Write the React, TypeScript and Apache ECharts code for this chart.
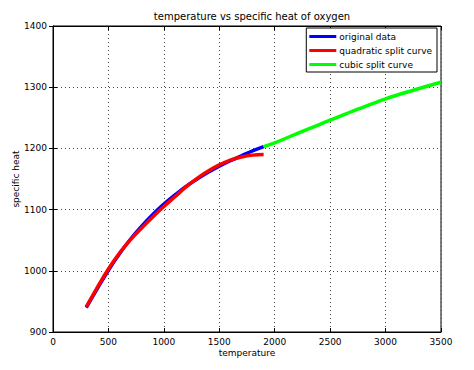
import React, { useEffect, useRef } from "react";
import * as echarts from "echarts";

const titleText = "temperature vs specific heat of oxygen";
const xName = "temperature";
const yName = "specific heat";

const originalX = [300, 400, 500, 600, 700, 800, 900, 1000, 1100, 1200, 1300, 1400, 1500, 1600, 1700, 1800, 1900];
const originalY = [940, 971, 1001, 1028, 1052, 1073, 1092, 1109, 1124, 1138, 1150, 1161, 1171, 1180, 1188, 1196, 1203];

const quadX = [300, 400, 500, 600, 700, 800, 900, 1000, 1100, 1200, 1300, 1400, 1500, 1600, 1700, 1800, 1900];
const quadY = [941, 973, 1003, 1029, 1051, 1070, 1088, 1105, 1121, 1137, 1151, 1163, 1173, 1181, 1186, 1189, 1190];

const cubicX = [1900, 2000, 2250, 2500, 2750, 3000, 3250, 3500];
const cubicY = [1203, 1209, 1228, 1246, 1264, 1281, 1295, 1308];

const zip = (xs: number[], ys: number[]) => xs.map((x, i) => [x, ys[i]]);

const FONT = "DejaVu Sans";

export default function App() {
  const ref = useRef<HTMLDivElement>(null);
  useEffect(() => {
    if (!ref.current) return;
    const chart = echarts.init(ref.current, undefined, { renderer: "svg" });
    const axisCommon = {
      axisLine: { show: true, lineStyle: { color: "#000", width: 1 } },
      axisTick: { show: true, inside: true, length: 4, lineStyle: { color: "#000" } },
    };
    const fmt = (v: number) => String(v);
    chart.setOption({
      animation: false,
      backgroundColor: "#fff",
      title: {
        text: titleText,
        left: 247,
        textAlign: "center",
        top: 6,
        textStyle: { fontFamily: FONT, fontSize: 10, fontWeight: "normal", color: "#000" },
      },
      legend: {
        orient: "vertical",
        right: 37,
        top: 28,
        backgroundColor: "#fff",
        borderColor: "#000",
        borderWidth: 1,
        borderRadius: 0,
        padding: [4, 5, 3, 3],
        itemGap: 5,
        itemWidth: 27,
        itemHeight: 3,
        icon: "rect",
        textStyle: { fontFamily: FONT, fontSize: 9, color: "#000", padding: [0, 0, 0, -2] },
        data: ["original data", "quadratic split curve", "cubic split curve"],
      },
      grid: {
        left: 53,
        right: 33,
        top: 26,
        bottom: 38,
        show: true,
        borderColor: "#000",
        borderWidth: 1,
        outerBoundsMode: "none",
        containLabel: false,
      },
      xAxis: [
        {
          ...axisCommon,
          type: "value",
          min: 0,
          max: 3500,
          interval: 500,
          position: "bottom",
          name: xName,
          nameLocation: "middle",
          nameGap: 16,
          nameMoveOverlap: false,
          nameTextStyle: { fontFamily: FONT, fontSize: 9, color: "#000" },
          axisLabel: { fontFamily: FONT, fontSize: 9, color: "#000", margin: 5, formatter: fmt },
          splitLine: { show: true, lineStyle: { type: [1, 3], color: "#444", width: 1 } },
        },
        {
          ...axisCommon,
          type: "value",
          min: 0,
          max: 3500,
          interval: 500,
          position: "top",
          axisLabel: { show: false },
          splitLine: { show: false },
        },
      ],
      yAxis: [
        {
          ...axisCommon,
          type: "value",
          min: 900,
          max: 1400,
          interval: 100,
          position: "left",
          name: yName,
          nameLocation: "middle",
          nameGap: 33,
          nameMoveOverlap: false,
          nameTextStyle: { fontFamily: FONT, fontSize: 9, color: "#000" },
          axisLabel: { fontFamily: FONT, fontSize: 9, color: "#000", margin: 6, formatter: fmt },
          splitLine: { show: true, lineStyle: { type: [1, 3], color: "#444", width: 1 } },
        },
        {
          ...axisCommon,
          type: "value",
          min: 900,
          max: 1400,
          interval: 100,
          position: "right",
          axisLabel: { show: false },
          splitLine: { show: false },
        },
      ],
      series: [
        {
          name: "original data",
          type: "line",
          data: zip(originalX, originalY),
          smooth: 0.4,
          showSymbol: false,
          lineStyle: { color: "#0000ff", width: 3.5 },
          itemStyle: { color: "#0000ff" },
        },
        {
          name: "quadratic split curve",
          type: "line",
          data: zip(quadX, quadY),
          smooth: 0.4,
          showSymbol: false,
          lineStyle: { color: "#ff0000", width: 3.5 },
          itemStyle: { color: "#ff0000" },
        },
        {
          name: "cubic split curve",
          type: "line",
          data: zip(cubicX, cubicY),
          smooth: 0.4,
          showSymbol: false,
          lineStyle: { color: "#00ff00", width: 3.5 },
          itemStyle: { color: "#00ff00" },
        },
      ],
    });
    return () => chart.dispose();
  }, []);
  return <div ref={ref} style={{ width: 474, height: 370, position: "absolute", left: 0, top: 0 }} />;
}
